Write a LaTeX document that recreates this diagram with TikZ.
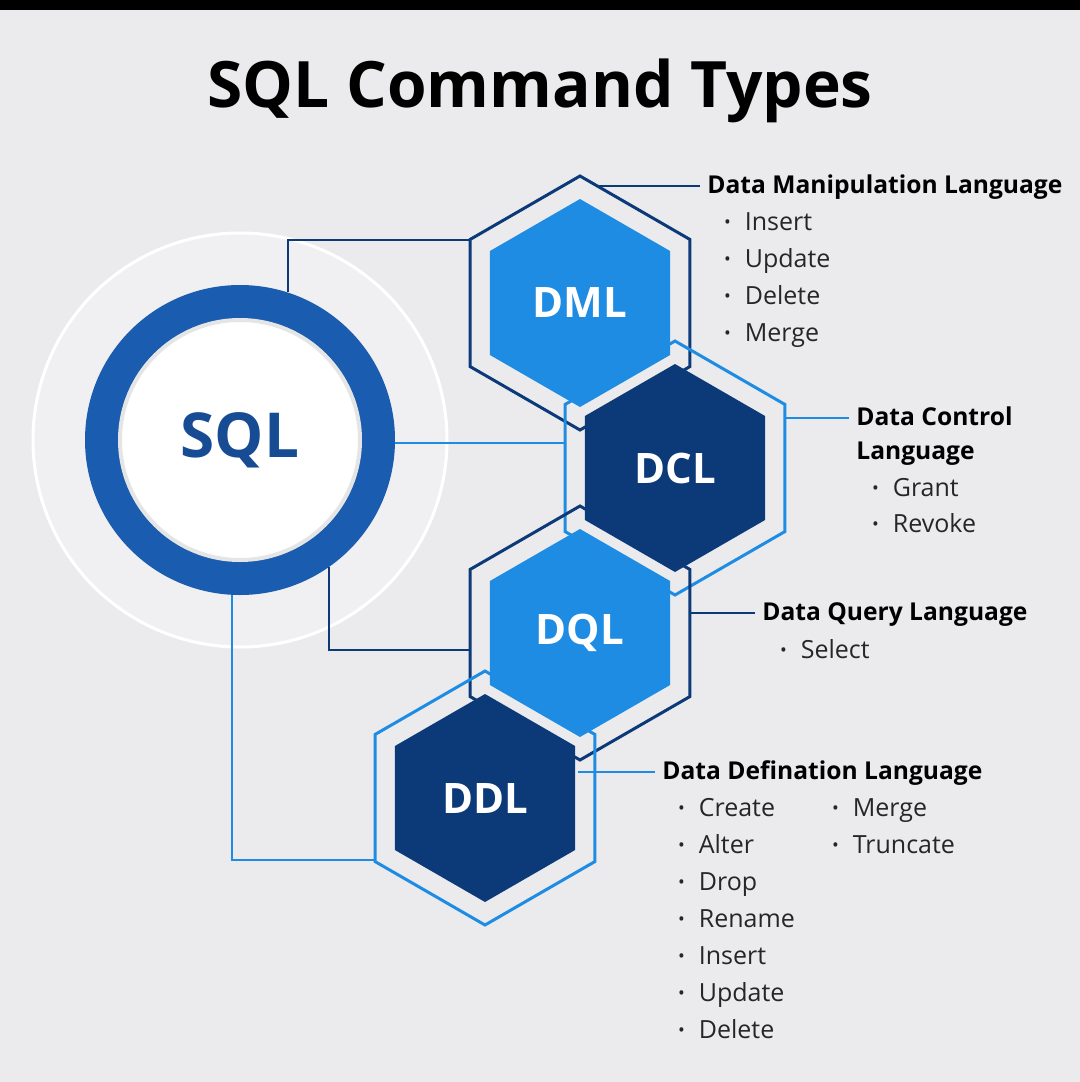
\documentclass[tikz,border=0pt]{standalone}
\usepackage{fontspec}
\setmainfont{Open Sans}
\usetikzlibrary{shapes.geometric}
\definecolor{bgray}{HTML}{EBEBEE}
\definecolor{lblue}{HTML}{1E8CE2}
\definecolor{navy}{HTML}{0C3A78}
\definecolor{ringblue}{HTML}{1A5CB0}
\definecolor{sqltext}{HTML}{174C94}

\tikzset{
  hexo/.style = {regular polygon, regular polygon sides = 6, regular polygon rotate = 30,
    minimum size = 127pt, inner sep = 0pt, line width = 1.5pt},
  hex/.style = {regular polygon, regular polygon sides = 6, regular polygon rotate = 30,
    minimum size = 104pt, inner sep = 0pt, text = white, font = \fontsize{21}{24}\selectfont\bfseries},
  head/.style = {anchor = base west, inner sep = 0pt, font = \fontsize{12.3}{17}\selectfont\bfseries, text = black},
  item/.style = {anchor = base west, font = \fontsize{12.5}{14}\selectfont, text = black!85},
  link/.style = {line width = 1.2pt},
}
\newcommand{\bul}[1]{{\fontsize{9}{10}\selectfont\raisebox{1pt}{•}}\hspace{7pt}#1}

\begin{document}
\begin{tikzpicture} [
  x = 0.5pt,
  y = -0.5pt,
]
\useasboundingbox (0, 0) rectangle (1080, 1082);
\fill [bgray] (0, 0) rectangle (1080, 1082);
\fill [black] (0, 0) rectangle (1080, 10);

\node (title) at (540, 91) {\fontsize{32}{36}\selectfont\bfseries SQL Command Types};

% the SQL circle
\fill [white!25!bgray] (240, 440) circle [radius = 207];
\draw [white, line width = 1.5pt] (240, 440) circle [radius = 207];
\node [circle, fill = ringblue, minimum size = 155pt, inner sep = 0pt] (ring) at (240, 440) {};
\node [circle, fill = white, minimum size = 120pt, inner sep = 0pt, draw = black!10, line width = 2pt,
  text = sqltext, font = \fontsize{31}{36}\selectfont\bfseries] (sql) at (240, 440) {SQL};

% outlines
\node [hexo, draw = navy] (dmlo) at (580, 303) {};
\node [hexo, draw = lblue] (dclo) at (675, 468) {};
\node [hexo, draw = navy] (dqlo) at (580, 633) {};
\node [hexo, draw = lblue] (ddlo) at (485, 798) {};

% connectors to the circle
\coordinate (dmlin) at (470, 240);
\coordinate (dclin) at (566, 443);
\coordinate (dqlin) at (470, 650);
\coordinate (ddlin) at (376, 860);
\draw [link, navy] (ring.72) |- (dmlin);
\draw [link, lblue] (ring.east |- dclin) -- (dclin);
\draw [link, navy] (ring.-55) |- (dqlin);
\draw [link, lblue] (ring.-93) |- (ddlin);

% filled hexagons
\node [hex, fill = lblue] (dml) at (580, 303) {DML};
\node [hex, fill = navy] (dcl) at (675, 468) {DCL};
\node [hex, fill = lblue] (dql) at (580, 633) {DQL};
\node [hex, fill = navy] (ddl) at (485, 798) {DDL};

% labels
\node [head] (dmlh) at (707, 193) {Data Manipulation Language};
\draw [link, navy] (598, 186) -- (700, 186);
\foreach \t [count = \i] in {Insert, Update, Delete, Merge}
  \node [item] at (717, 193 + 37*\i) {\bul{\t}};

\node [head] (dclh) at (856, 425) {Data Control};
\node [head] (dclh2) at (856, 459) {Language};
\draw [link, lblue] (785, 418) -- (849, 418);
\foreach \t [count = \i] in {Grant, Revoke}
  \node [item] at (865, 460 + 36*\i) {\bul{\t}};

\node [head] (dqlh) at (762, 620) {Data Query Language};
\draw [link, navy] (690, 613) -- (755, 613);
\node [item] at (773, 658) {\bul{Select}};

\node [head] (ddlh) at (662, 779) {Data Defination Language};
\draw [link, lblue] (578, 772) -- (655, 772);
\foreach \t [count = \i] in {Create, Alter, Drop, Rename, Insert, Update, Delete}
  \node [item] at (671, 779 + 37*\i) {\bul{\t}};
\foreach \t [count = \i] in {Merge, Truncate}
  \node [item] at (825, 779 + 37*\i) {\bul{\t}};
\end{tikzpicture}
\end{document}
